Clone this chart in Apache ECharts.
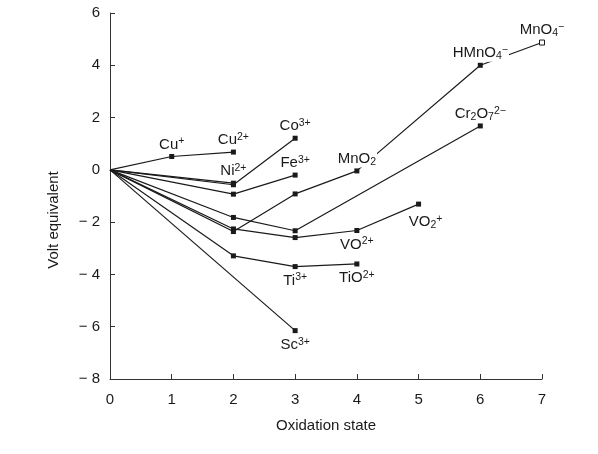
<!DOCTYPE html>
<html>
<head>
<meta charset="utf-8">
<style>
  html, body { margin: 0; padding: 0; background: #fff; }
  #chart { width: 598px; height: 454px; }
</style>
<script src="https://cdn.jsdelivr.net/npm/echarts@6/dist/echarts.min.js"></script>
</head>
<body>
<div id="chart"></div>
<script>
// Frost diagram values (oxidation state, volt equivalent)
var xTicks = [0, 1, 2, 3, 4, 5, 6, 7];
var yTicks = [-8, -6, -4, -2, 0, 2, 4, 6];

var cuX = [0, 1, 2];       var cuY = [0, 0.51, 0.68];
var niX = [0, 2];          var niY = [0, -0.51];
var coX = [0, 2, 3];       var coY = [0, -0.57, 1.21];
var feX = [0, 2, 3];       var feY = [0, -0.93, -0.2];
var mnX = [0, 2, 3, 4, 6, 7]; var mnY = [0, -2.36, -0.92, -0.04, 4.0, 4.87];
var crX = [0, 2, 3, 6];    var crY = [0, -1.82, -2.33, 1.68];
var vX  = [0, 2, 3, 4, 5]; var vY  = [0, -2.26, -2.59, -2.32, -1.31];
var tiX = [0, 2, 3, 4];    var tiY = [0, -3.29, -3.7, -3.6];
var scX = [0, 3];          var scY = [0, -6.15];

// species names per point ('' = unlabelled)
var cuNames = ['', 'Cu{sup|+}', 'Cu{sup|2+}'];
var niNames = ['', 'Ni{sup|2+}'];
var coNames = ['', '', 'Co{sup|3+}'];
var feNames = ['', '', 'Fe{sup|3+}'];
var mnNames = ['', '', '', 'MnO{sub|2}', 'HMnO{sub|4}{sup|−}', 'MnO{sub|4}{sup|−}'];
var crNames = ['', '', '', 'Cr{sub|2}O{sub|7}{sup|2−}'];
var vNames  = ['', '', '', 'VO{sup|2+}', 'VO{sub|2}{sup|+}'];
var tiNames = ['', '', 'Ti{sup|3+}', 'TiO{sup|2+}'];
var scNames = ['', 'Sc{sup|3+}'];

var ink = '#1a1a1a';
var font = 'Liberation Sans, Arial, Helvetica, sans-serif';

// label placement: 'top' unless listed here
var below = { 'VO{sup|2+}': [0, 0], 'Ti{sup|3+}': [0, 0], 'TiO{sup|2+}': [0, 0],
              'Sc{sup|3+}': [0, 0], 'VO{sub|2}{sup|+}': [7, 4] };
var hollow = { 'MnO{sub|4}{sup|−}': true };
// labels that blank out the line passing behind them
var masked = { 'MnO{sub|2}': true, 'HMnO{sub|4}{sup|−}': true };

function build(name, xs, ys, names) {
    var data = xs.map(function(x, i) {
        var item = { value: [x, ys[i]] };
        if (i === 0) item.symbol = 'none';
        var n = names[i];
        if (n) {
            var isBelow = below.hasOwnProperty(n);
            item.label = {
                show: true,
                formatter: n,
                position: isBelow ? 'bottom' : 'top',
                offset: isBelow ? below[n] : [0, 0],
                distance: isBelow ? 3 : 1,
                backgroundColor: masked[n] ? '#fff' : 'transparent'
            };
            if (hollow[n]) item.itemStyle = { color: '#fff', borderColor: ink, borderWidth: 1 };
        }
        return item;
    });
    return {
        name: name, type: 'line', data: data,
        symbol: 'rect', symbolSize: 5,
        lineStyle: { color: ink, width: 1.2 },
        itemStyle: { color: ink },
        label: {
            color: ink, fontFamily: font, fontSize: 15, lineHeight: 17,
            padding: [0, 1],
            rich: {
                sup: { fontSize: 10.5, lineHeight: 10, verticalAlign: 'top', color: ink, fontFamily: font },
                sub: { fontSize: 10.5, lineHeight: 10, verticalAlign: 'bottom', color: ink, fontFamily: font }
            }
        },
        emphasis: { disabled: true }
    };
}

var chart = echarts.init(document.getElementById('chart'), null, { renderer: 'canvas' });
chart.setOption({
    animation: false,
    grid: { left: 110, right: 56, top: 13, bottom: 75 },
    xAxis: {
        type: 'value', min: xTicks[0], max: xTicks[xTicks.length - 1], interval: 1,
        name: 'Oxidation state', nameLocation: 'middle', nameGap: 39,
        nameTextStyle: { color: ink, fontFamily: font, fontSize: 15 },
        axisLine: { onZero: false, lineStyle: { color: '#333', width: 1 } },
        axisTick: { inside: true, length: 5, lineStyle: { color: '#333' } },
        axisLabel: { color: ink, fontFamily: font, fontSize: 15, margin: 13 },
        splitLine: { show: false }
    },
    yAxis: {
        type: 'value', min: yTicks[0], max: yTicks[yTicks.length - 1], interval: 2,
        name: 'Volt equivalent', nameLocation: 'middle', nameGap: 49,
        nameTextStyle: { color: ink, fontFamily: font, fontSize: 15, padding: [0, 48, 0, 0] },
        axisLine: { onZero: false, lineStyle: { color: '#333', width: 1 } },
        axisTick: { inside: true, length: 5, lineStyle: { color: '#333' } },
        axisLabel: {
            color: ink, fontFamily: font, fontSize: 15, margin: 10,
            formatter: function(v) { return String(v).replace('-', '− '); }
        },
        splitLine: { show: false }
    },
    series: [
        build('Cu', cuX, cuY, cuNames),
        build('Ni', niX, niY, niNames),
        build('Co', coX, coY, coNames),
        build('Fe', feX, feY, feNames),
        build('Mn', mnX, mnY, mnNames),
        build('Cr', crX, crY, crNames),
        build('V', vX, vY, vNames),
        build('Ti', tiX, tiY, tiNames),
        build('Sc', scX, scY, scNames)
    ]
});
window.addEventListener('resize', function() { chart.resize(); });
</script>
</body>
</html>
